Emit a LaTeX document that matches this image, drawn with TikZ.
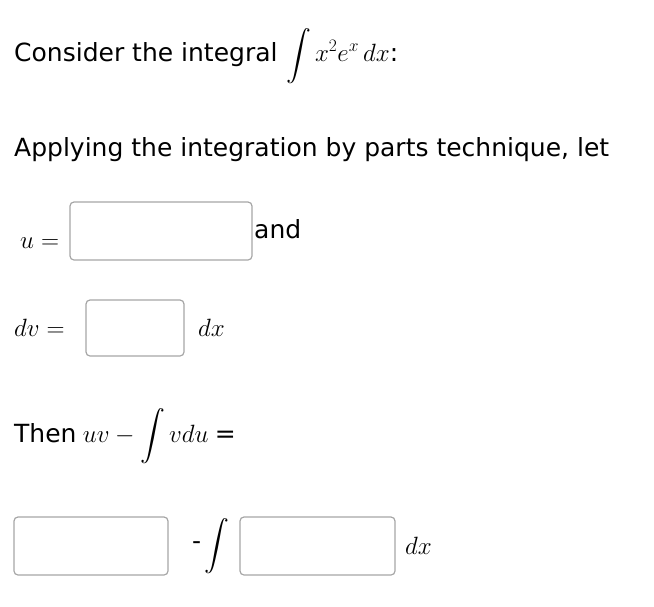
\RequirePackage{fix-cm}
\documentclass[tikz,border=0pt]{standalone}
\usepackage{amsmath}
\usepackage{fontspec}
\setmainfont{DejaVu Sans}
\begin{document}
\begin{tikzpicture}[x=1pt,y=-1pt,
  ans/.style={draw=gray!70,line width=1.2pt,rounded corners=4pt},
  txt/.style={anchor=west,inner sep=0pt,font=\fontsize{25}{28}\selectfont},
  mth/.style={anchor=west,inner sep=0pt,font=\fontsize{25}{28}\selectfont}]
\useasboundingbox (0,0) rectangle (654,606);
\node[txt] (t1) at (14,55) {Consider the integral};
\node[mth,anchor=base west] (t1m) at ([xshift=8pt]t1.base east) {$\displaystyle\int x^2e^x\,dx$:};
\node[txt] (t2) at (14,150) {Applying the integration by parts technique, let};
\node[mth] (u) at (20,243) {$u=$};
\draw[ans] (70,202) rectangle (252,260);
\node[txt] (and) at (254,229) {and};
\node[mth] (dv) at (14,328) {$dv=$};
\draw[ans] (86,300) rectangle (184,356);
\node[mth] (dx1) at (198,328) {$dx$};
\node[txt] (then) at (14,433) {Then};
\node[mth,anchor=base west] (thenm) at ([xshift=6pt]then.base east) {$uv-\displaystyle\int vdu$};
\node[txt,anchor=base west] (eq) at ([xshift=6pt]thenm.base east) {=};
\draw[ans] (14,517) rectangle (168,575);
\node[txt] (m) at (192,546) {-};
\node[mth] (m2) at (204,546) {$\displaystyle\int$};
\draw[ans] (240,517) rectangle (395,575);
\node[mth] (dx2) at (405,546) {$dx$};
\end{tikzpicture}
\end{document}
